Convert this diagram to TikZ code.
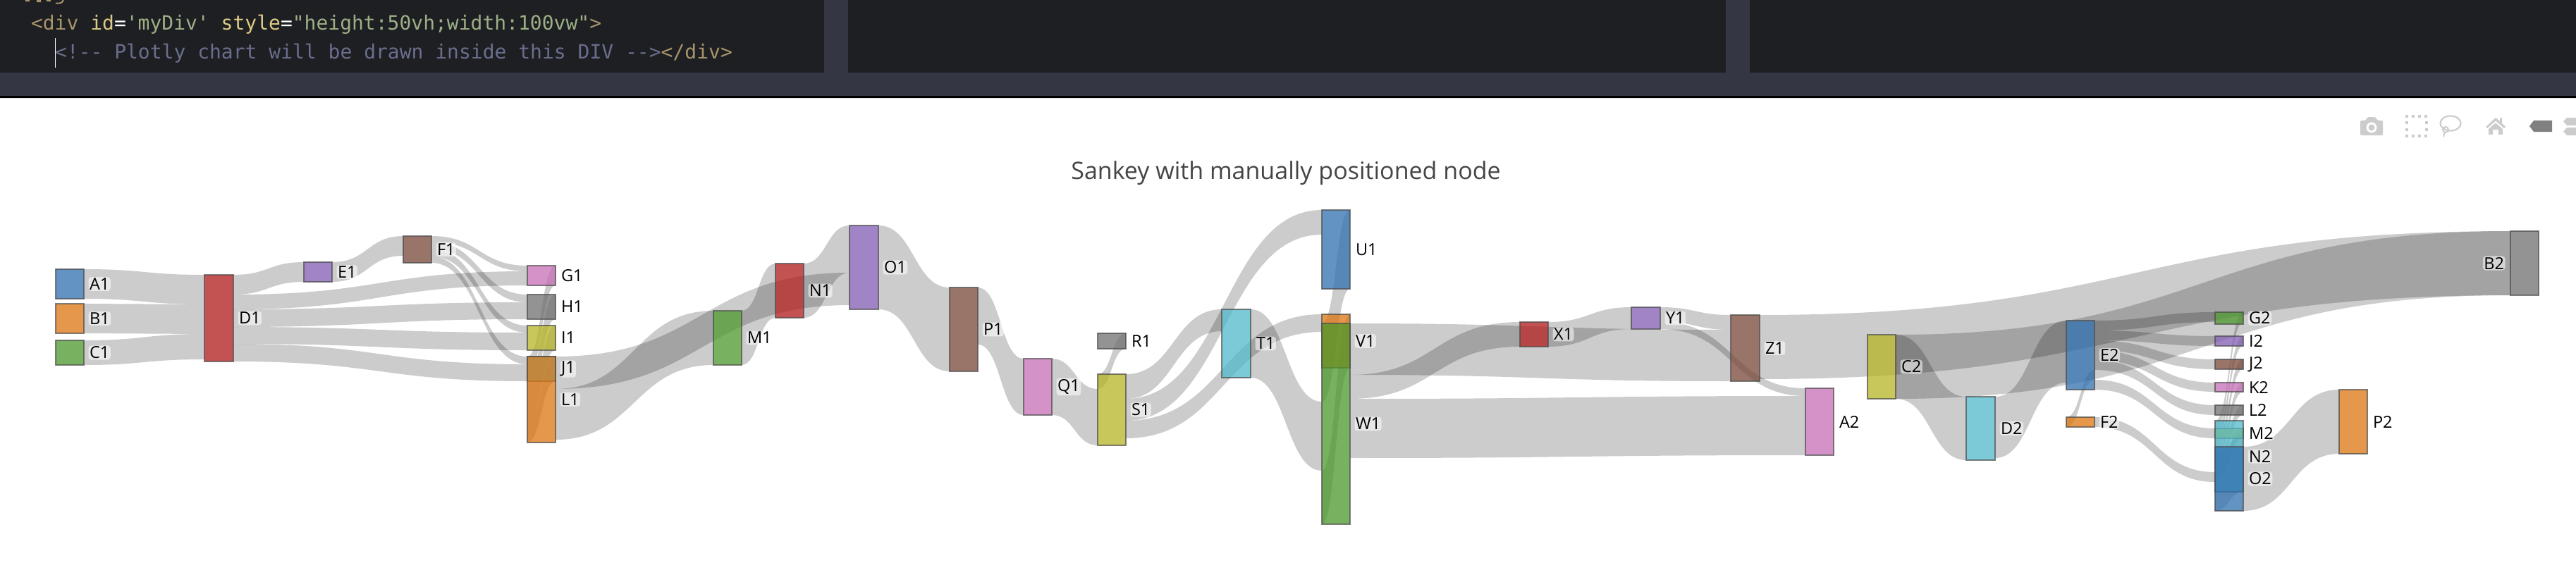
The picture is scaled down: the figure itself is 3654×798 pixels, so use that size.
\documentclass[tikz,border=0pt]{standalone}
\usepackage{fontspec}
\setmainfont{Open Sans}
\newfontfamily\codefont[Ligatures=TeXOff]{DejaVu Sans Mono}
\usetikzlibrary{calc}
\pgfdeclarelayer{ground}
\pgfdeclarelayer{links}
\pgfsetlayers{ground,links,main}
\definecolor{pblue}{RGB}{48,112,176}
\definecolor{porange}{RGB}{221,117,16}
\definecolor{pgreen}{RGB}{75,152,44}
\definecolor{pred}{RGB}{175,25,25}
\definecolor{ppurple}{RGB}{129,92,179}
\definecolor{pbrown}{RGB}{119,71,55}
\definecolor{ppink}{RGB}{199,110,183}
\definecolor{pgray}{RGB}{111,111,111}
\definecolor{polive}{RGB}{181,181,37}
\definecolor{pcyan}{RGB}{81,185,203}
\definecolor{edpanel}{HTML}{1D1F23}
\definecolor{edbar}{HTML}{343743}
\definecolor{ctag}{HTML}{A8946A}
\definecolor{cattr}{HTML}{DCCB85}
\definecolor{cval}{HTML}{9DAF85}
\definecolor{ccom}{HTML}{6A6E8C}
\definecolor{ticon}{HTML}{CCCCCC}
\tikzset{
  nodebox/.style={rectangle,inner sep=0pt,outer sep=0pt,draw=black!70,line width=1.1pt,fill opacity=.75,draw opacity=.7},
  nodetext/.style={inner sep=1.5pt,outer sep=0pt,rounded corners=4pt,fill=white,fill opacity=.55,text opacity=1,font=\fontsize{23.5}{23.5}\selectfont,text=black},
  linkfill/.style={fill=black,fill opacity=.2},
  codetext/.style={inner sep=0pt,outer sep=0pt,anchor=base west,font=\codefont\fontsize{28}{28}\selectfont},
}
\newcommand{\snode}[6]{%
  \pgfmathsetmacro{\cw}{#4-#2}\pgfmathsetmacro{\ch}{#5-#3}%
  \pgfmathsetmacro{\cx}{(#2+#4)/2}\pgfmathsetmacro{\cy}{(#3+#5)/2}%
  \node[nodebox,fill=#6,minimum width=\cw pt,minimum height=\ch pt] (#1) at (\cx,\cy) {};%
  \node[nodetext,anchor=west] (#1t) at ($(#1.east)+(6.5,0)$) {#1};%
}
\newcommand{\lnk}[6]{%
  \fill[linkfill] let \p1=(#1.east),\p2=(#4.west),\n1={(\x1+\x2)/2} in
   (\x1,-#2pt) .. controls (\n1,-#2pt) and (\n1,-#5pt) .. (\x2,-#5pt)
   -- (\x2,-#6pt) .. controls (\n1,-#6pt) and (\n1,-#3pt) .. (\x1,-#3pt) -- cycle;%
}
\begin{document}
\begin{tikzpicture}[x=1pt,y=-1pt]
\useasboundingbox (0,0) rectangle (3654,798);
\clip (0,0) rectangle (3654,798);
\begin{pgfonlayer}{ground}
\fill[white] (0,0) rectangle (3654,798);
\end{pgfonlayer}
% editor chrome
\fill[edpanel] (0,0) rectangle (3654,103);
\fill[edbar] (1169,0) rectangle (1203,103);
\fill[edbar] (2448,0) rectangle (2482,103);
\fill[edbar] (0,103) rectangle (3654,136);
\fill[black] (0,136) rectangle (3654,138.5);
\fill[black!12] (0,138.5) rectangle (3654,139.5);
\fill[ctag] (36,0) rectangle (42,2) (52,0) rectangle (58,3) (66,0) rectangle (72,2);
\draw[ctag,line width=2pt] (90,0) .. controls (88,5) and (84,5) .. (79,4.5);
\node[codetext] (code1) at (44,42) {\color{ctag}<div \color{cattr}id\color{white}=\color{cval}'myDiv' \color{cattr}style\color{white}=\color{cval}"height:50vh;width:100vw"\color{ctag}>};
\node[codetext] (code2) at (78,83) {\color{ccom}<!-- Plotly chart will be drawn inside this DIV -->\color{ctag}</div>};
\fill[white] (77.5,54) rectangle (79,96);
% title
\node[inner sep=0pt,anchor=base,font=\fontsize{34}{34}\selectfont,text=black!73] (title) at (1824,254) {Sankey with manually positioned node};
% toolbar
\fill[ticon,rounded corners=2pt] (3348,171) -- (3356,171) -- (3358,166) -- (3370,166) -- (3372,171) -- (3380,171) -- (3380,192) -- (3348,192) -- cycle;
\fill[white] (3364,181) circle (7.5);
\fill[ticon] (3364,181) circle (4.5);
\foreach \i in {0,...,3}{
  \fill[ticon] (3412+\i*9,163) rectangle ++(4,4);
  \fill[ticon] (3412+\i*9,191) rectangle ++(4,4);}
\foreach \i in {1,2}{
  \fill[ticon] (3412,163+\i*9.3) rectangle ++(4,4);
  \fill[ticon] (3440,163+\i*9.3) rectangle ++(4,4);}
\draw[ticon,line width=2.2pt] (3476,175) ellipse (14.5 and 10.5);
\draw[ticon,line width=2pt] (3469,184) circle (4) (3468,187) -- (3466,194);
\fill[ticon] (3540,167) -- (3546,172) -- (3546,167) -- (3549,167) -- (3549,175) -- (3554,180) -- (3552,182) -- (3540,171.5) -- (3528,182) -- (3526,180) -- cycle;
\fill[ticon] (3540,174.5) -- (3550,183) -- (3550,191) -- (3544,191) -- (3544,184) -- (3536,184) -- (3536,191) -- (3530,191) -- (3530,183) -- cycle;
\fill[black!50] (3588,179) -- (3594,171) -- (3620,171) -- (3620,187) -- (3594,187) -- cycle;
\fill[ticon] (3636,172.5) -- (3641,167) -- (3654,167) -- (3654,178) -- (3641,178) -- cycle;
\fill[ticon] (3636,186.5) -- (3641,181) -- (3654,181) -- (3654,192) -- (3641,192) -- cycle;
% sankey nodes (later ones lie over earlier ones)
\snode{A1}{79}{382}{119}{424}{pblue}
\snode{B1}{79}{431}{119}{473}{porange}
\snode{C1}{79}{483}{119}{518}{pgreen}
\snode{D1}{290}{390}{331}{513}{pred}
\snode{E1}{431}{372}{471}{400}{ppurple}
\snode{F1}{572}{335}{612}{373}{pbrown}
\snode{G1}{748}{377}{788}{405}{ppink}
\snode{H1}{748}{418}{788}{453}{pgray}
\snode{I1}{748}{462}{788}{497}{polive}
\snode{J1}{748}{506}{788}{541}{pcyan}
\snode{L1}{748}{506}{788}{628}{porange}
\snode{M1}{1012}{441}{1052}{518}{pgreen}
\snode{N1}{1100}{374}{1140}{451}{pred}
\snode{O1}{1205}{320}{1246}{439}{ppurple}
\snode{P1}{1347}{408}{1387}{527}{pbrown}
\snode{Q1}{1452}{509}{1492}{589}{ppink}
\snode{R1}{1557}{473}{1597}{495}{pgray}
\snode{S1}{1557}{531}{1597}{632}{polive}
\snode{T1}{1733}{439}{1774}{536}{pcyan}
\snode{U1}{1875}{298}{1915}{410}{pblue}
\snode{V1}{1875}{446}{1915}{522}{porange}
\snode{W1}{1875}{459}{1915}{744}{pgreen}
\snode{X1}{2156}{457}{2196}{492}{pred}
\snode{Y1}{2314}{436}{2355}{467}{ppurple}
\snode{Z1}{2455}{447}{2496}{541}{pbrown}
\snode{A2}{2561}{551}{2601}{646}{ppink}
\node[nodebox,fill=pgray,minimum width=40pt,minimum height=91pt] (B2) at (3581,373.5) {};
\node[nodetext,anchor=east] (B2t) at ($(B2.west)+(-7.5,0)$) {B2};
\snode{C2}{2649}{475}{2689}{566}{polive}
\snode{D2}{2789}{563}{2830}{653}{pcyan}
\snode{E2}{2931}{455}{2971}{553}{pblue}
\snode{F2}{2931}{592}{2971}{606}{porange}
\snode{G2}{3142}{443}{3182}{460}{pgreen}
\snode{I2}{3142}{477}{3182}{491}{ppurple}
\snode{J2}{3142}{510}{3182}{524}{pbrown}
\snode{K2}{3142}{543}{3182}{556}{ppink}
\snode{L2}{3142}{575}{3182}{589}{pgray}
\snode{M2}{3142}{608}{3182}{622}{polive}
\snode{N2}{3142}{597}{3182}{698}{pcyan}
\snode{O2}{3142}{634}{3182}{725}{pblue}
\snode{P2}{3318}{553}{3358}{644}{porange}
% links
\begin{pgfonlayer}{links}
\lnk{A1}{382}{424}{D1}{390}{432}
\lnk{B1}{431}{473}{D1}{432}{474}
\lnk{C1}{483}{518}{D1}{474}{510}
\lnk{D1}{390}{418}{E1}{372}{400}
\lnk{D1}{418}{439}{G1}{385}{405}
\lnk{D1}{439}{464}{H1}{429}{453}
\lnk{D1}{464}{488}{I1}{472}{497}
\lnk{D1}{488}{513}{J1}{517}{541}
\lnk{E1}{372}{400}{F1}{335}{363}
\lnk{F1}{335}{343}{G1}{377}{385}
\lnk{F1}{343}{353}{H1}{418}{429}
\lnk{F1}{353}{364}{I1}{462}{472}
\lnk{F1}{364}{373}{J1}{506}{517}
\lnk{G1}{377}{405}{L1}{506}{534}
\lnk{H1}{418}{453}{L1}{534}{565}
\lnk{I1}{462}{497}{L1}{565}{597}
\lnk{J1}{506}{541}{L1}{597}{628}
\lnk{L1}{506}{552}{O1}{387}{433}
\lnk{L1}{552}{624}{M1}{441}{518}
\lnk{M1}{441}{518}{N1}{374}{451}
\lnk{N1}{374}{451}{O1}{320}{387}
\lnk{O1}{320}{439}{P1}{408}{527}
\lnk{P1}{408}{489}{Q1}{509}{589}
\lnk{Q1}{509}{589}{S1}{552}{632}
\lnk{R1}{473}{495}{S1}{531}{552}
\lnk{S1}{531}{566}{T1}{439}{470}
\lnk{S1}{566}{597}{U1}{298}{333}
\lnk{S1}{597}{622}{V1}{446}{471}
\lnk{T1}{439}{536}{W1}{570}{668}
\lnk{U1}{298}{410}{W1}{459}{570}
\lnk{V1}{446}{522}{W1}{668}{744}
\lnk{W1}{459}{532}{Z1}{468}{541}
\lnk{W1}{532}{566}{X1}{457}{492}
\lnk{W1}{566}{650}{A2}{562}{646}
\lnk{X1}{457}{492}{Y1}{436}{467}
\lnk{Y1}{436}{456.5}{Z1}{447}{468}
\lnk{Y1}{456.5}{467}{A2}{551}{562}
\lnk{Z1}{447}{538}{B2}{328}{419}
\lnk{C2}{475}{566}{B2}{328}{419}
\lnk{C2}{475}{566}{D2}{563}{653}
\lnk{D2}{563}{650}{E2}{455}{543}
\lnk{E2}{455}{469}{G2}{443}{457}
\lnk{E2}{469}{483}{I2}{477}{491}
\lnk{E2}{483}{497}{J2}{510}{524}
\lnk{E2}{497}{511}{K2}{543}{556}
\lnk{E2}{511}{525}{L2}{575}{589}
\lnk{E2}{525}{539}{F2}{592}{606}
\lnk{E2}{539}{553}{M2}{608}{622}
\lnk{F2}{592}{606}{O2}{670}{684}
\lnk{G2}{443}{457}{N2}{597}{611}
\lnk{I2}{477}{491}{N2}{611}{625}
\lnk{J2}{510}{524}{N2}{625}{639}
\lnk{K2}{543}{556}{N2}{639}{653}
\lnk{L2}{575}{589}{N2}{653}{667}
\lnk{M2}{608}{622}{N2}{667}{681}
\lnk{N2}{617}{698}{O2}{644}{725}
\lnk{O2}{634}{725}{P2}{553}{644}
\end{pgfonlayer}
\end{tikzpicture}
\end{document}
